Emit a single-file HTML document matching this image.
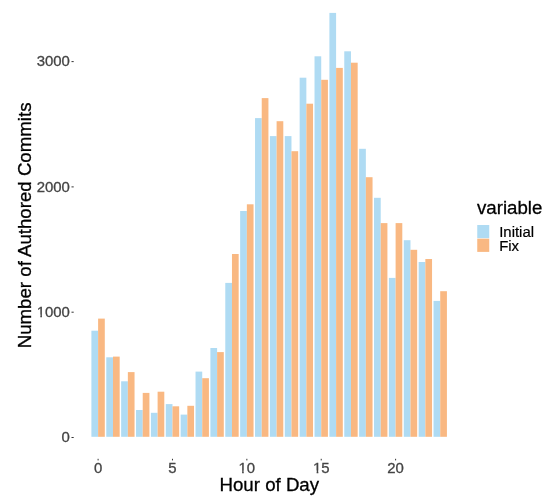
<!DOCTYPE html>
<html><head><meta charset="utf-8"><title>Commits by Hour of Day</title>
<style>
html,body{margin:0;padding:0;background:#fff;}
body{width:550px;height:502px;overflow:hidden;font-family:"Liberation Sans",sans-serif;}
svg{display:block;}
text{font-family:"Liberation Sans",sans-serif;}
.tick{font-size:14.93px;fill:#444444;stroke:#444444;stroke-width:0.3px;}
.title{font-size:18.67px;fill:#000;stroke:#000;stroke-width:0.3px;}
.leg{font-size:14.93px;fill:#000;stroke:#000;stroke-width:0.2px;}
</style></head><body>
<svg width="550" height="502" viewBox="0 0 550 502">
<rect x="0" y="0" width="550" height="502" fill="#ffffff"/>
<g>
<rect x="91.40" y="330.7" width="6.7" height="106.1" fill="#afdbf3"/>
<rect x="98.10" y="318.6" width="6.7" height="118.2" fill="#f9b882"/>
<rect x="106.28" y="357.3" width="6.7" height="79.5" fill="#afdbf3"/>
<rect x="112.98" y="356.6" width="6.7" height="80.2" fill="#f9b882"/>
<rect x="121.15" y="381.3" width="6.7" height="55.5" fill="#afdbf3"/>
<rect x="127.85" y="372.1" width="6.7" height="64.7" fill="#f9b882"/>
<rect x="136.03" y="410.0" width="6.7" height="26.8" fill="#afdbf3"/>
<rect x="142.72" y="392.9" width="6.7" height="43.9" fill="#f9b882"/>
<rect x="150.90" y="412.8" width="6.7" height="24.0" fill="#afdbf3"/>
<rect x="157.60" y="391.7" width="6.7" height="45.1" fill="#f9b882"/>
<rect x="165.78" y="404.1" width="6.7" height="32.7" fill="#afdbf3"/>
<rect x="172.47" y="406.3" width="6.7" height="30.5" fill="#f9b882"/>
<rect x="180.65" y="414.6" width="6.7" height="22.2" fill="#afdbf3"/>
<rect x="187.35" y="405.8" width="6.7" height="31.0" fill="#f9b882"/>
<rect x="195.53" y="371.6" width="6.7" height="65.2" fill="#afdbf3"/>
<rect x="202.22" y="378.2" width="6.7" height="58.6" fill="#f9b882"/>
<rect x="210.40" y="348.0" width="6.7" height="88.8" fill="#afdbf3"/>
<rect x="217.10" y="352.1" width="6.7" height="84.7" fill="#f9b882"/>
<rect x="225.28" y="282.9" width="6.7" height="153.9" fill="#afdbf3"/>
<rect x="231.97" y="254.0" width="6.7" height="182.8" fill="#f9b882"/>
<rect x="240.15" y="211.0" width="6.7" height="225.8" fill="#afdbf3"/>
<rect x="246.85" y="204.3" width="6.7" height="232.5" fill="#f9b882"/>
<rect x="255.03" y="118.1" width="6.7" height="318.7" fill="#afdbf3"/>
<rect x="261.73" y="98.1" width="6.7" height="338.7" fill="#f9b882"/>
<rect x="269.90" y="136.1" width="6.7" height="300.7" fill="#afdbf3"/>
<rect x="276.60" y="121.2" width="6.7" height="315.6" fill="#f9b882"/>
<rect x="284.77" y="136.1" width="6.7" height="300.7" fill="#afdbf3"/>
<rect x="291.47" y="151.2" width="6.7" height="285.6" fill="#f9b882"/>
<rect x="299.65" y="77.7" width="6.7" height="359.1" fill="#afdbf3"/>
<rect x="306.35" y="103.7" width="6.7" height="333.1" fill="#f9b882"/>
<rect x="314.52" y="56.3" width="6.7" height="380.5" fill="#afdbf3"/>
<rect x="321.22" y="79.8" width="6.7" height="357.0" fill="#f9b882"/>
<rect x="329.40" y="12.9" width="6.7" height="423.9" fill="#afdbf3"/>
<rect x="336.10" y="67.9" width="6.7" height="368.9" fill="#f9b882"/>
<rect x="344.27" y="51.3" width="6.7" height="385.5" fill="#afdbf3"/>
<rect x="350.97" y="62.7" width="6.7" height="374.1" fill="#f9b882"/>
<rect x="359.15" y="148.8" width="6.7" height="288.0" fill="#afdbf3"/>
<rect x="365.85" y="177.2" width="6.7" height="259.6" fill="#f9b882"/>
<rect x="374.02" y="197.8" width="6.7" height="239.0" fill="#afdbf3"/>
<rect x="380.72" y="223.1" width="6.7" height="213.7" fill="#f9b882"/>
<rect x="388.90" y="277.9" width="6.7" height="158.9" fill="#afdbf3"/>
<rect x="395.60" y="223.1" width="6.7" height="213.7" fill="#f9b882"/>
<rect x="403.77" y="240.2" width="6.7" height="196.6" fill="#afdbf3"/>
<rect x="410.47" y="249.8" width="6.7" height="187.0" fill="#f9b882"/>
<rect x="418.65" y="262.0" width="6.7" height="174.8" fill="#afdbf3"/>
<rect x="425.35" y="259.0" width="6.7" height="177.8" fill="#f9b882"/>
<rect x="433.52" y="300.9" width="6.7" height="135.9" fill="#afdbf3"/>
<rect x="440.22" y="291.2" width="6.7" height="145.6" fill="#f9b882"/>
</g>
<g stroke="#333333" stroke-width="1">
<line x1="71.5" y1="437.5" x2="73.7" y2="437.5"/>
<line x1="71.5" y1="312.2" x2="73.7" y2="312.2"/>
<line x1="71.5" y1="186.9" x2="73.7" y2="186.9"/>
<line x1="71.5" y1="61.6" x2="73.7" y2="61.6"/>
<line x1="98.10" y1="458.8" x2="98.10" y2="460.4"/>
<line x1="172.47" y1="458.8" x2="172.47" y2="460.4"/>
<line x1="246.85" y1="458.8" x2="246.85" y2="460.4"/>
<line x1="321.23" y1="458.8" x2="321.23" y2="460.4"/>
<line x1="395.60" y1="458.8" x2="395.60" y2="460.4"/>
</g>
<g class="tick" text-anchor="end">
<text x="69.9" y="442.3">0</text>
<text x="69.9" y="317.0">1000</text>
<text x="69.9" y="191.7">2000</text>
<text x="69.9" y="66.4">3000</text>
</g>
<g class="tick" text-anchor="middle">
<text x="98.10" y="473.2">0</text>
<text x="172.47" y="473.2">5</text>
<text x="246.85" y="473.2">10</text>
<text x="321.23" y="473.2">15</text>
<text x="395.60" y="473.2">20</text>
</g>
<g fill="#ffffff">
<rect x="238.0" y="470.5" width="4.10" height="3.50"/>
<rect x="243.75" y="470.5" width="3.35" height="3.50"/>
<rect x="312.9" y="470.5" width="3.70" height="3.50"/>
<rect x="318.35" y="470.5" width="2.95" height="3.50"/>
<rect x="35.7" y="314.5" width="4.60" height="3.50"/>
<rect x="41.95" y="314.5" width="3.45" height="3.50"/>
</g>
<text class="title" text-anchor="middle" x="269.3" y="491.1">Hour of Day</text>
<text class="title" text-anchor="middle" transform="translate(31.2,225.4) rotate(-90)">Number of Authored Commits</text>
<text class="title" x="477.0" y="213.8">variable</text>
<rect x="477.25" y="225.0" width="12" height="13.15" fill="#afdbf3"/>
<rect x="477.25" y="238.65" width="12" height="13.25" fill="#f9b882"/>
<text class="leg" x="499.2" y="236.8">Initial</text>
<text class="leg" x="499.2" y="250.9">Fix</text>
</svg></body></html>
